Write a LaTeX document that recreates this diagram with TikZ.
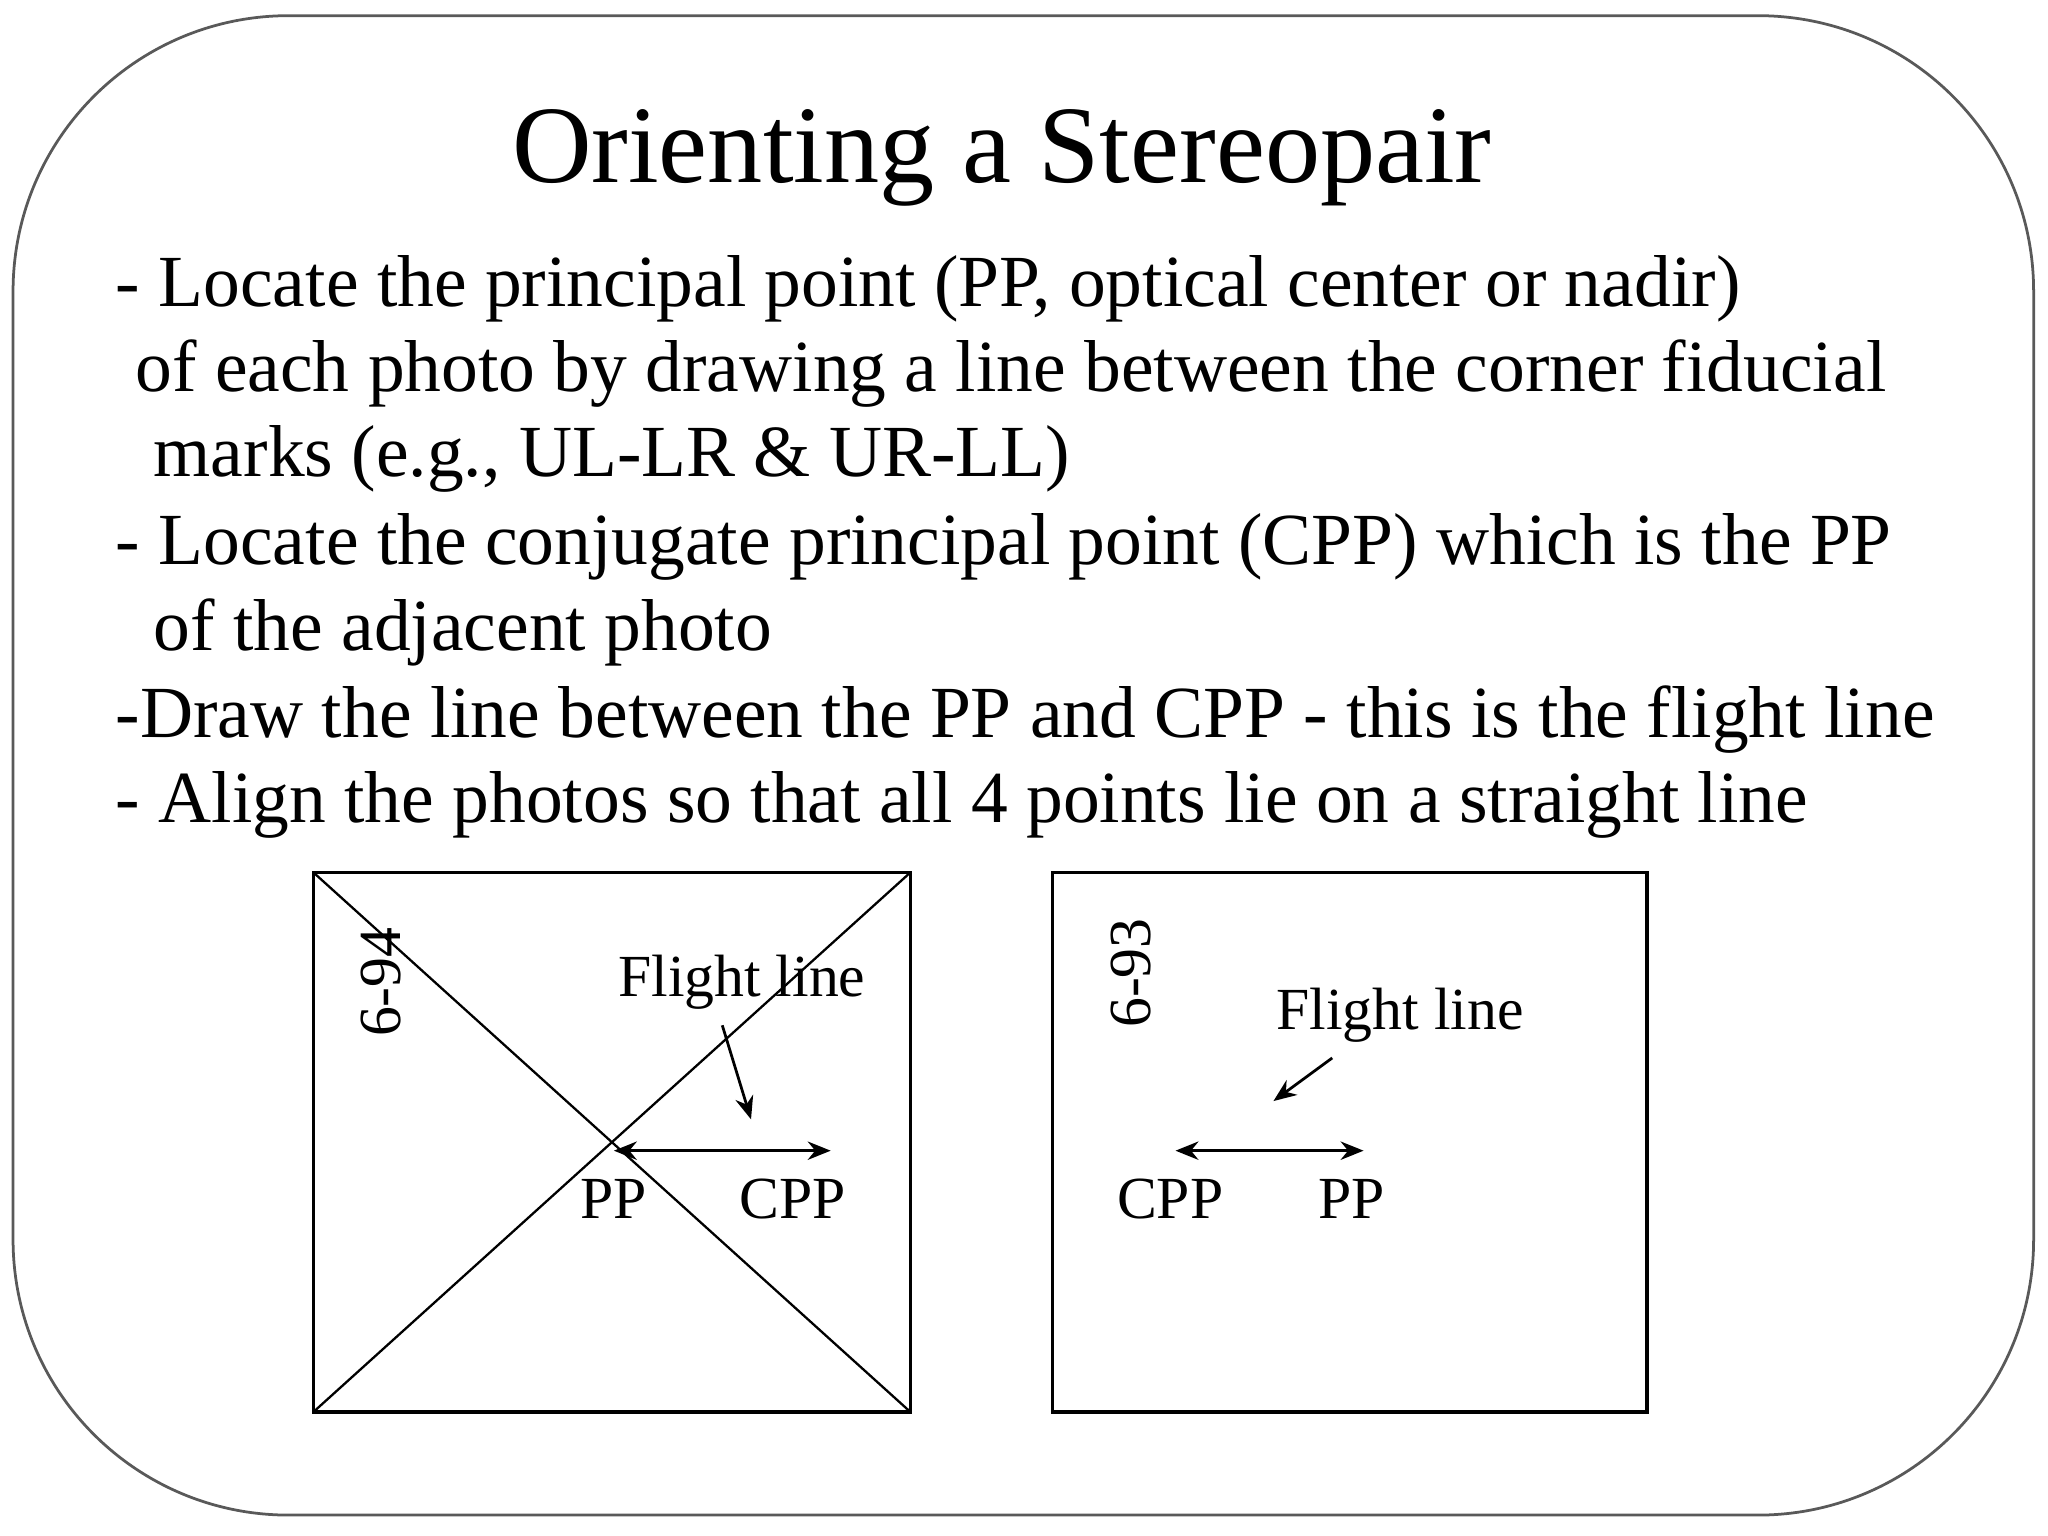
\documentclass[tikz,border=0pt]{standalone}
\usepackage{fontspec}
\setmainfont{Liberation Serif}
\usetikzlibrary{arrows.meta}
\begin{document}
\begin{tikzpicture}[x=0.01cm,y=-0.01cm,
  body/.style={anchor=base west,inner sep=0,font=\fontsize{16}{18}\selectfont},
  lbl/.style={inner sep=0,font=\fontsize{13}{15}\selectfont},
  photo/.style={draw,line width=0.7pt},
  arr/.style={-{Stealth[length=5pt,width=4pt]},line width=0.6pt}]
\useasboundingbox (0,0) rectangle (1568,1176);
\draw[rounded corners=60,line width=0.6pt,gray!70!black] (10,12) rectangle (1557,1160);
\node[anchor=base,inner sep=0,font=\fontsize{24}{28}\selectfont] (title) at (767,140) {Orienting a Stereopair};
\node[body] (l1) at (88,235) {- Locate the principal point (PP, optical center or nadir)};
\node[body] (l2) at (103,300) {of each photo by drawing a line between the corner fiducial};
\node[body] (l3) at (117,365) {marks (e.g., UL-LR \& UR-LL)};
\node[body] (l4) at (88,432) {- Locate the conjugate principal point (CPP) which is the PP};
\node[body] (l5) at (117,498) {of the adjacent photo};
\node[body] (l6) at (88,565) {-Draw the line between the PP and CPP - this is the flight line};
\node[body] (l7) at (88,630) {- Align the photos so that all 4 points lie on a straight line};
% left photo
\draw[photo] (240,668) rectangle (697,1081);
\draw[line width=0.5pt] (240,668) -- (697,1081) (240,1081) -- (697,668);
\coordinate (pp1) at (470,881); \coordinate (cpp1) at (636,881);
\draw[arr,{Stealth[length=5pt,width=4pt]}-{Stealth[length=5pt,width=4pt]}] (pp1) -- (cpp1);
\node[lbl] (ppL) at (470,918) {PP};
\node[lbl] (cppL) at (607,918) {CPP};
\node[lbl] (fl1) at (568,752) {Flight line};
\coordinate (fa1) at (575,857);
\draw[arr] (553,785) -- (fa1);
\node[lbl,rotate=90] (n1) at (292,752) {6-94};
% right photo
\draw[photo] (806,668) rectangle (1261,1081);
\coordinate (cpp2) at (900,881); \coordinate (pp2) at (1044,881);
\draw[arr,{Stealth[length=5pt,width=4pt]}-{Stealth[length=5pt,width=4pt]}] (cpp2) -- (pp2);
\node[lbl] (cppR) at (896,918) {CPP};
\node[lbl] (ppR) at (1035,918) {PP};
\node[lbl] (fl2) at (1072,777) {Flight line};
\coordinate (fa2) at (975,843);
\draw[arr] (1020,810) -- (fa2);
\node[lbl,rotate=90] (n2) at (866,745) {6-93};
\end{tikzpicture}
\end{document}
